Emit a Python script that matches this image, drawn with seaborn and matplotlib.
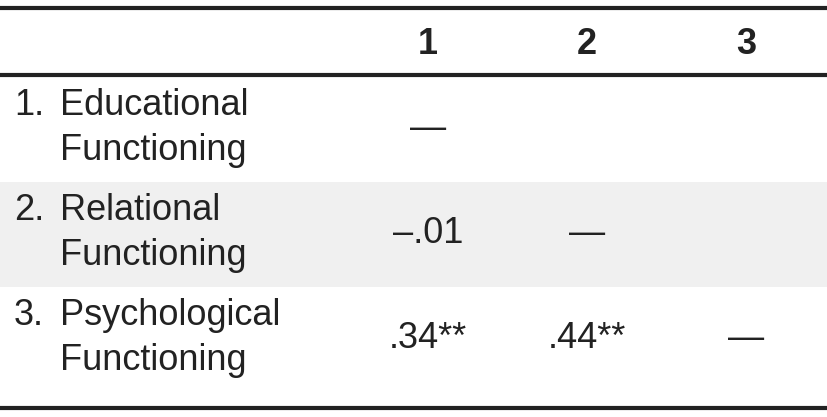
import matplotlib
matplotlib.use("Agg")
import matplotlib.pyplot as plt
import seaborn as sns
import numpy as np

sns.set_theme(style="white")
plt.rcParams['font.family'] = ['Liberation Sans', 'DejaVu Sans']

headers = ["1", "2", "3"]
row_nums = ["1.", "2.", "3."]
row_names = [["Educational", "Functioning"], ["Relational", "Functioning"], ["Psychological", "Functioning"]]
cells = [["—", "", ""], ["–.01", "—", ""], [".34**", ".44**", "—"]]
shade = [0, 1, 0]

fig = plt.figure(figsize=(8.27, 4.17), dpi=100)
ax = fig.add_axes([0, 0, 1, 1])
sns.heatmap(np.array(shade).reshape(-1, 1), ax=ax, cmap=["white", "#f0f0f0"], cbar=False,
            xticklabels=False, yticklabels=False)
ax.collections[0].remove()
ax.set_xlim(0, 827)
ax.set_ylim(417, 0)
ax.axis("off")
row_top = 77
row_h = 105
for i, s in enumerate(shade):
    if s:
        ax.axhspan(row_top + i * row_h, row_top + (i + 1) * row_h, xmin=0, xmax=1, color="#f0f0f0", lw=0)

col_x = [428, 587, 746]
fs = 26
col = "#222222"
for x, h in zip(col_x, headers):
    ax.text(x, 44, h, ha="center", va="center", fontsize=fs, fontweight="bold", color=col)
for i in range(3):
    yc = row_top + i * row_h + row_h / 2 - 1
    ax.text(14, yc - 23, row_nums[i], ha="left", va="center", fontsize=fs, color=col)
    ax.text(60, yc - 23, row_names[i][0], ha="left", va="center", fontsize=fs, color=col)
    ax.text(60, yc + 22, row_names[i][1], ha="left", va="center", fontsize=fs, color=col)
    for j in range(3):
        ax.text(col_x[j], yc, cells[i][j], ha="center", va="center", fontsize=fs, color=col)

ax.plot([0, 827], [8, 8], color=col, lw=3)
ax.plot([0, 827], [75, 75], color=col, lw=3)
ax.plot([0, 827], [408, 408], color=col, lw=3)
fig.savefig("out.png", dpi=100)
